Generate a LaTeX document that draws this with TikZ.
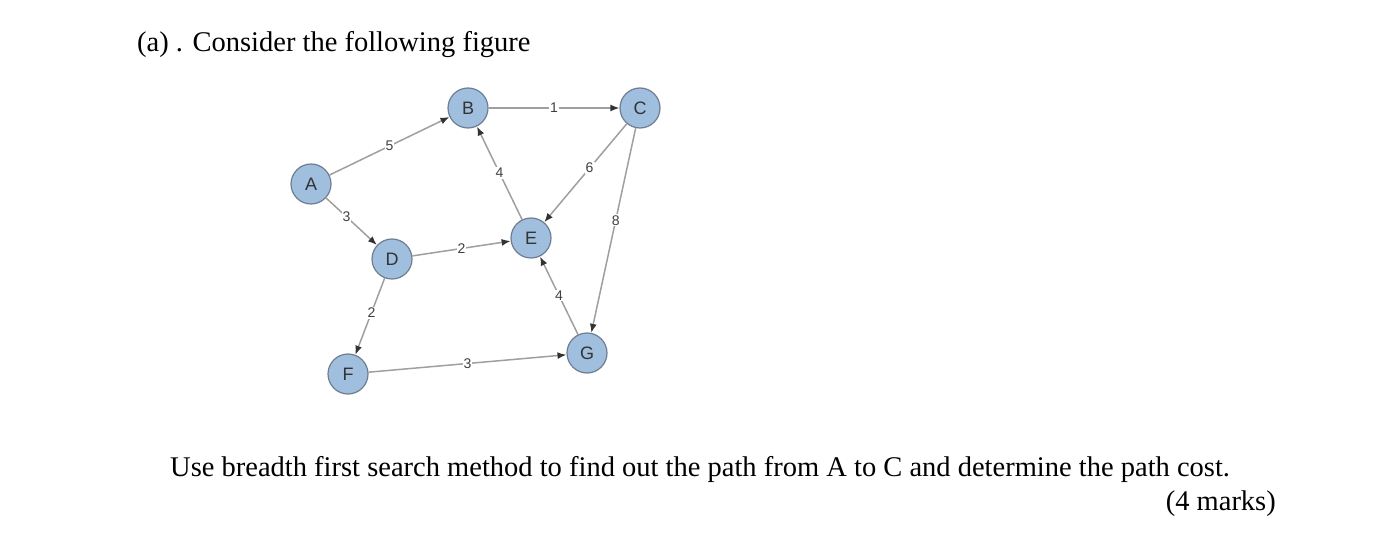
\documentclass[tikz,border=0pt]{standalone}
\usepackage{fontspec}
\setmainfont{Liberation Serif}
\newfontfamily\gsans{Liberation Sans}
\usetikzlibrary{arrows.meta}
\definecolor{nodefill}{RGB}{160,190,222}
\definecolor{nodeline}{RGB}{110,125,145}
\begin{document}
\begin{tikzpicture}[x=1pt,y=-1pt,
  vtx/.style={circle,draw=nodeline,line width=1.2pt,fill=nodefill,minimum size=40pt,inner sep=0pt,font=\gsans\fontsize{18}{18}\selectfont,text=black!80},
  edge/.style={draw=gray!75,line width=1.5pt,-{Latex[length=9pt,width=7pt,color=black!80]}},
  wt/.style={fill=white,inner sep=1pt,font=\gsans\fontsize{14}{14}\selectfont,text=black!75},
  txt/.style={font=\fontsize{28.5}{32}\selectfont,inner sep=0pt}]
\useasboundingbox (0,0) rectangle (1397,553);
\node[txt,anchor=base west] (t1) at (137,52) {(a) . Consider the following figure};
\node[vtx] (A) at (311,184) {A};
\node[vtx] (B) at (468,108) {B};
\node[vtx] (C) at (640,108) {C};
\node[vtx] (D) at (392,259) {D};
\node[vtx] (E) at (531,238) {E};
\node[vtx] (F) at (348,374) {F};
\node[vtx] (G) at (587,353) {G};
\draw[edge] (A) -- node[wt]{5} (B);
\draw[edge] (A) -- node[wt,pos=0.4]{3} (D);
\draw[edge] (B) -- node[wt]{1} (C);
\draw[edge] (E) -- node[wt]{4} (B);
\draw[edge] (C) -- node[wt,pos=0.45]{6} (E);
\draw[edge] (C) -- node[wt,pos=0.45]{8} (G);
\draw[edge] (D) -- node[wt]{2} (E);
\draw[edge] (D) -- node[wt,pos=0.45]{2} (F);
\draw[edge] (G) -- node[wt]{4} (E);
\draw[edge] (F) -- node[wt]{3} (G);
\node[txt,anchor=base west] (t2) at (170,476) {Use breadth first search method to find out the path from A to C and determine the path cost.};
\node[txt,anchor=base east] (t3) at (1276,510) {(4 marks)};
\end{tikzpicture}
\end{document}
